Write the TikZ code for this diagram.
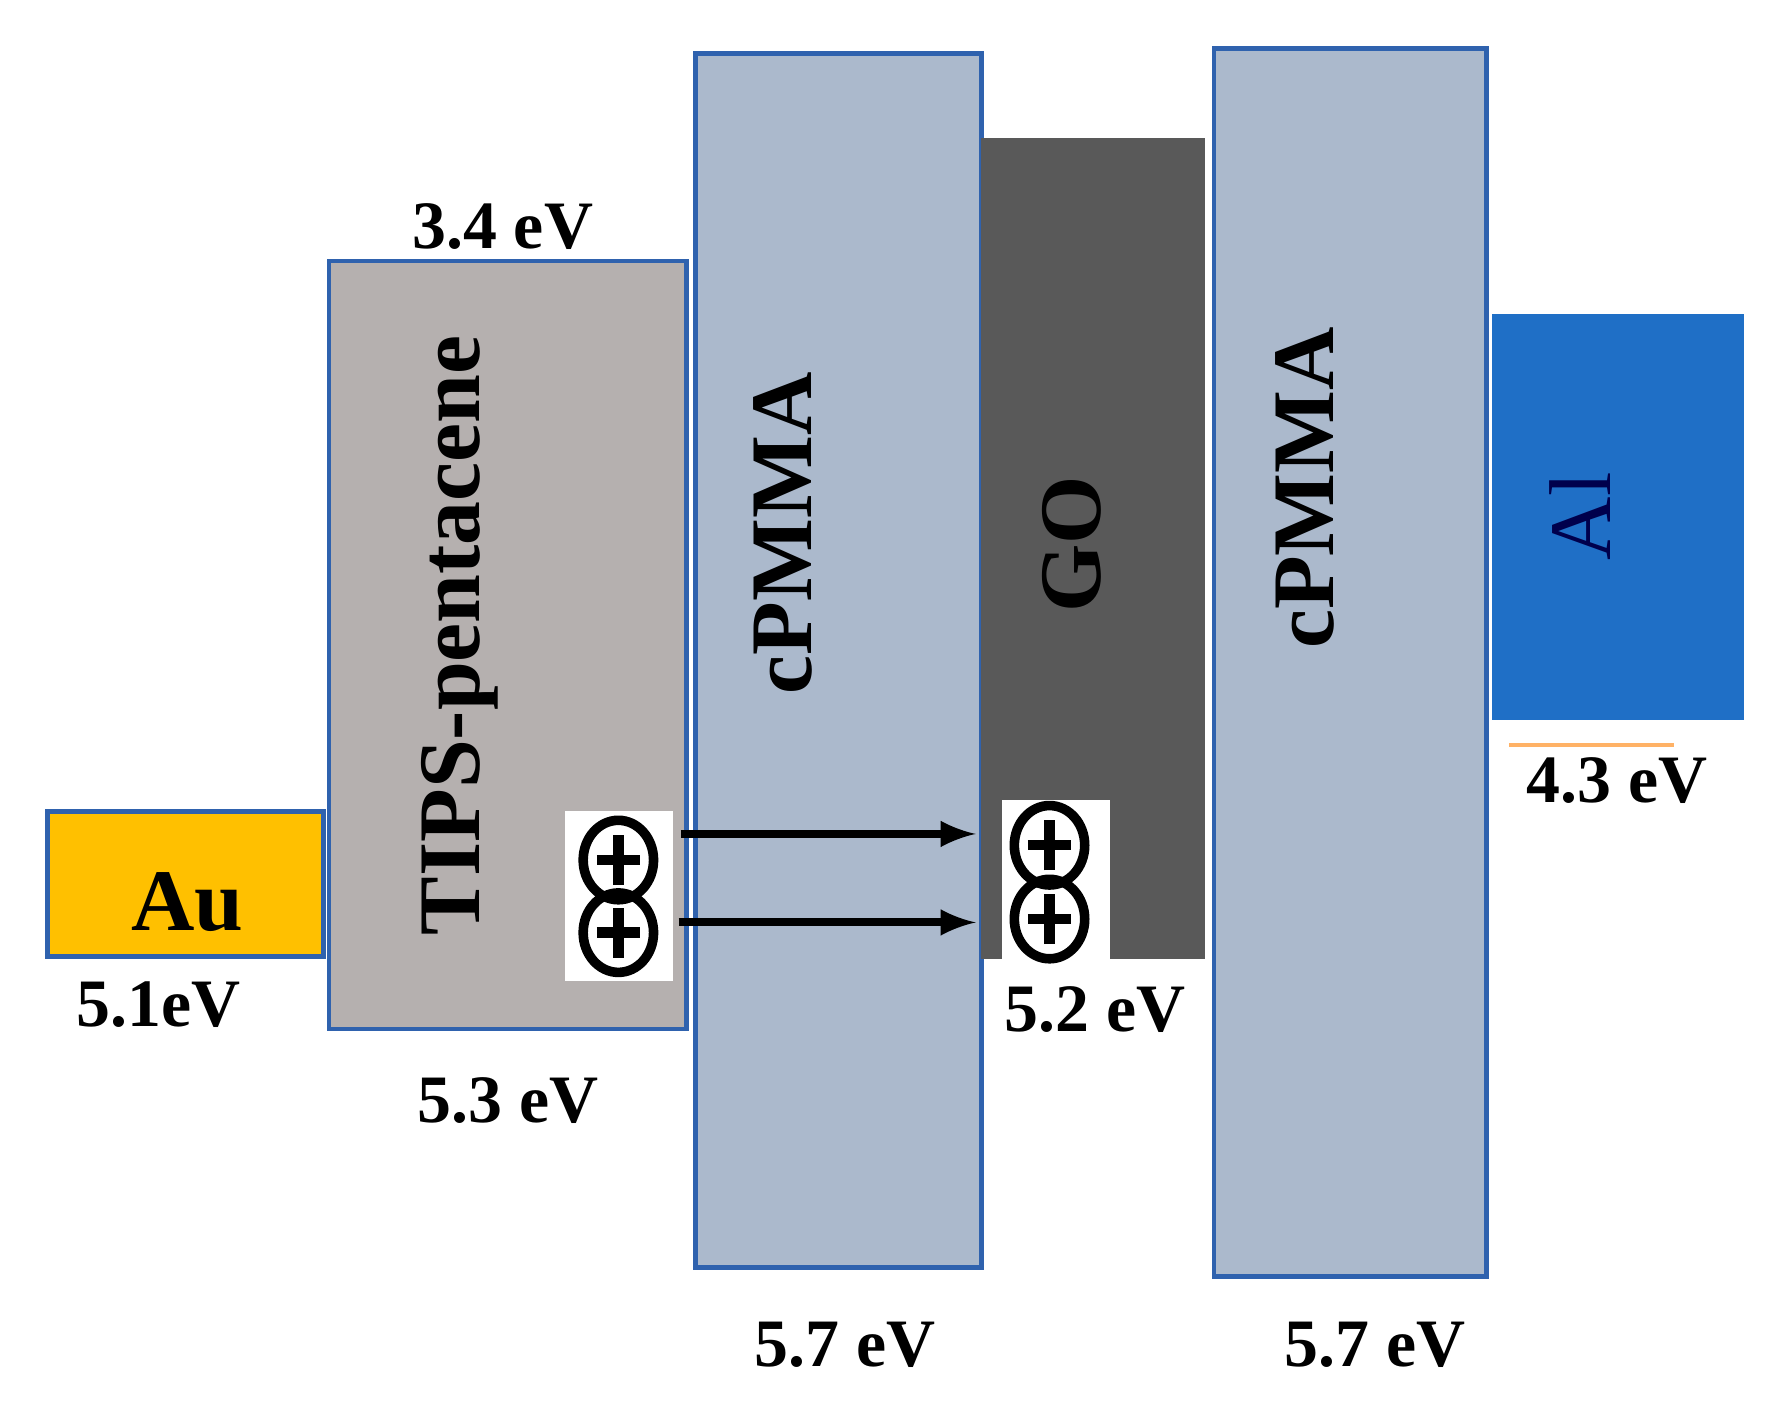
\documentclass[tikz,border=0pt]{standalone}
\usepackage{fontspec}
\usetikzlibrary{shapes.geometric}
\setmainfont{Liberation Serif}
\begin{document}
\begin{tikzpicture}[x=0.01cm,y=-0.01cm,
 layer/.style={draw=bordc,line width=1.2pt},
 lbl/.style={font=\bfseries\fontsize{17}{20}\selectfont},
 vlbl/.style={font=\bfseries\fontsize{22}{24}\selectfont,rotate=90},
 arr/.style={-latex,line width=2pt},
 holec/.style={ellipse,draw,line width=2.4pt,minimum width=0.62cm,minimum height=0.7cm,inner sep=0pt}]
\useasboundingbox (0,0) rectangle (1560,1258);
\definecolor{bordc}{HTML}{2F62AE}
\definecolor{au}{HTML}{FFC000}\definecolor{tips}{HTML}{B5B0AF}
\definecolor{pm}{HTML}{ABB9CC}\definecolor{go}{HTML}{595959}\definecolor{al}{HTML}{1F6FC6}
\draw[layer,fill=au] (42,715) rectangle (285,843);
\draw[layer,fill=tips] (290,230) rectangle (605,907);
\draw[layer,fill=pm] (613,47) rectangle (865,1117);
\fill[go] (865,122) rectangle (1062,845);
\draw[layer,fill=pm] (1070,43) rectangle (1310,1125);
\fill[al] (1315,277) rectangle (1537,635);
\draw[orange!60,line width=1pt] (1330,657) -- (1475,657);
\fill[white] (498,715) rectangle (593,865);
\fill[white] (883,705) rectangle (978,845);
\node[lbl] at (140,885) {5.1eV};
\node[lbl] at (443,200) {3.4 eV};
\node[lbl] at (448,970) {5.3 eV};
\node[lbl] at (745,1185) {5.7 eV};
\node[lbl] at (965,890) {5.2 eV};
\node[lbl] at (1212,1185) {5.7 eV};
\node[lbl] at (1425,688) {4.3 eV};
\node[lbl,font=\bfseries\fontsize{22}{24}\selectfont] at (165,795) {Au};
\node[vlbl] at (405,560) {TIPS-pentacene};
\node[vlbl] at (690,470) {cPMMA};
\node[vlbl] at (945,480) {GO};
\node[vlbl] at (1150,430) {cPMMA};
\node[vlbl,font=\fontsize{22}{24}\selectfont,text=blue!30!black] at (1393,455) {Al};
\foreach \n/\x/\y in {h1/545/758,h2/545/822,h3/925/745,h4/925/810}{
 \node[holec] (\n) at (\x,\y) {};
 \draw[line width=2.6pt] ([xshift=-0.19cm]\n.center) -- ([xshift=0.19cm]\n.center);
 \draw[line width=2.6pt] ([yshift=-0.22cm]\n.center) -- ([yshift=0.22cm]\n.center);}
\coordinate (a1s) at (600,735);\coordinate (a1e) at (860,735);
\coordinate (a2s) at (598,813);\coordinate (a2e) at (860,813);
\draw[arr] (a1s) -- (a1e);
\draw[arr] (a2s) -- (a2e);
\end{tikzpicture}
\end{document}
